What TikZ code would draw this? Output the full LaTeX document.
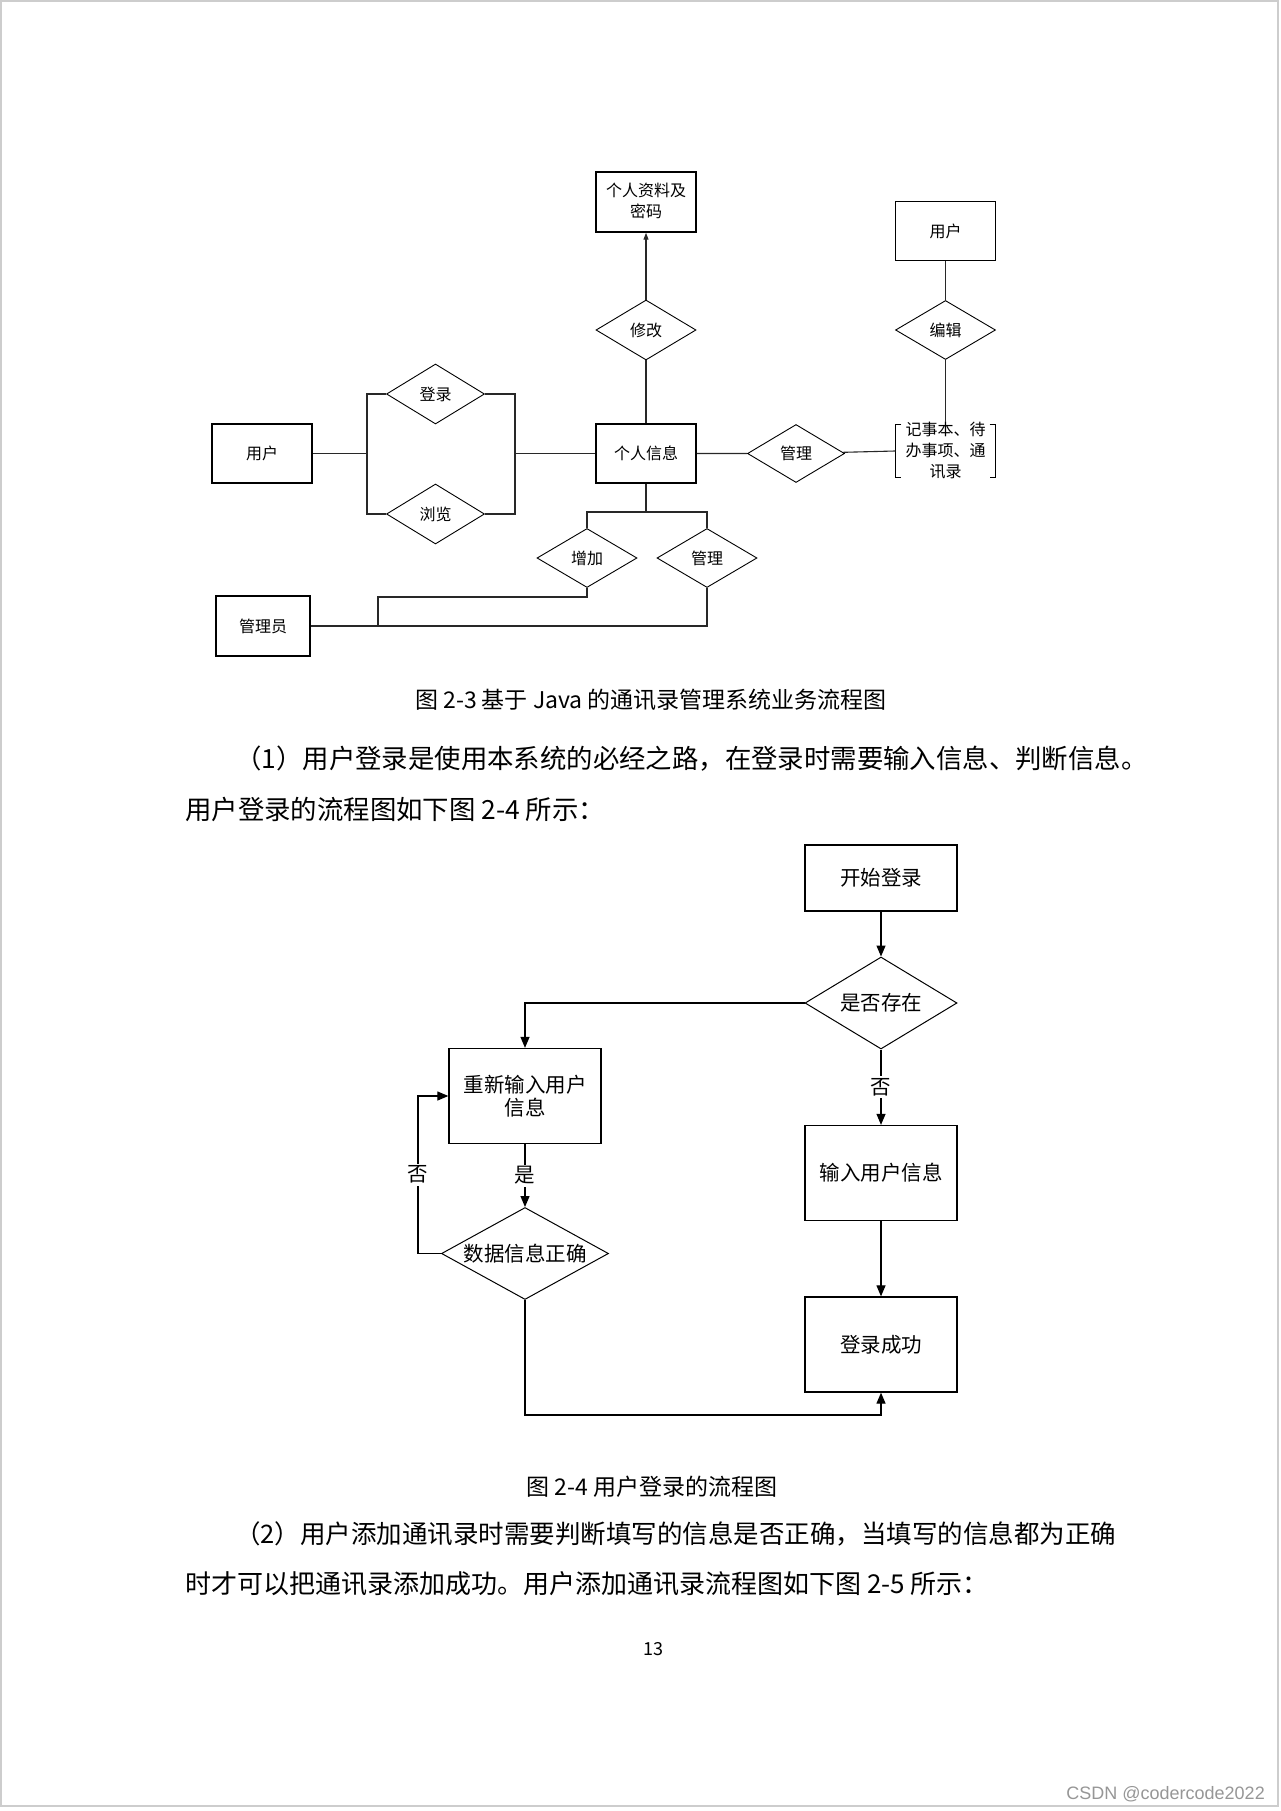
\documentclass[tikz,border=0pt]{standalone}
\usepackage{fontspec}
\setmainfont{Noto Sans CJK SC}
\newfontfamily\wmfont{Liberation Sans}
\usepackage{tikz}
\usetikzlibrary{arrows.meta,positioning,calc,shapes}
\usepackage{xcolor}
\definecolor{pageframe}{RGB}{205,205,205}
\definecolor{wmgray}{RGB}{150,150,150}
\definecolor{linegray}{RGB}{40,40,40}
\newcommand{\fsz}[1]{\fontsize{#1}{#1}\selectfont}
\newcommand{\overtext}[1]{\makebox[0pt]{#1}}
\newcommand{\textline}[4]{
  \node[anchor=west,inner sep=0pt,font=\fsz{#1}] (#2) at (#3) {#4};
}

\begin{document}
\begin{tikzpicture}[x=1pt,y=-1pt,
  box/.style={draw,line width=1.5pt,minimum width=100pt,minimum height=59pt,inner sep=1pt,font=\fontsize{16}{21}\selectfont,align=center},
  cond/.style={draw,diamond,line width=0.9pt,minimum width=100pt,minimum height=59pt,inner sep=0pt,font=\fsz{16}},
  fbox/.style={draw,line width=1.3pt,minimum width=152pt,minimum height=95pt,inner sep=1pt,font=\fsz{20.5},align=center},
  fcond/.style={draw,diamond,line width=1pt,minimum width=152pt,minimum height=92pt,inner sep=0pt,font=\fsz{20.5}},
  link/.style={draw,linegray,line width=1.1pt},
  arr/.style={draw,line width=1.2pt,-{Triangle[length=11pt,width=9pt]}},
  lbl/.style={fill=white,inner sep=2pt,font=\fsz{20.5}}]

  \useasboundingbox (0,0) rectangle (1280,1811);
  \draw[pageframe,line width=1.6pt] (1,1) rectangle (1278,1806);

  % figure 2-3
  \node[box] (user) at (262,453.5) {用户};
  \node[cond,minimum width=98pt,minimum height=60pt] (login) at (435.5,394) {登录};
  \node[cond,minimum width=98pt,minimum height=60pt] (browse) at (435.5,514) {浏览};
  \node[box] (info) at (646,453.5) {个人信息};
  \node[cond,minimum height=60pt] (modify) at (646,330) {修改};
  \node[box,minimum height=60pt] (profile) at (646,202) {\raisebox{3pt}{个人资料及}\\\raisebox{3pt}{密码}};
  \node[cond,minimum width=97pt,minimum height=58pt] (manage) at (796,453.5) {管理};
  \node[inner sep=0pt,minimum width=100pt,minimum height=47pt,font=\fontsize{16}{21}\selectfont,align=center] (notes) at (945.5,451) {记事本、待\\办事项、通\\讯录};
  \node[cond] (edit) at (945.5,330) {编辑};
  \node[box] (owner) at (945.5,231) {用户};
  \node[cond] (add) at (587,558) {增加};
  \node[cond] (manage2) at (707,558) {管理};
  \node[box,minimum width=94pt,minimum height=60pt] (admin) at (263,626) {管理员};

  \draw[line width=1.2pt] ([yshift=-2pt]notes.north west) ++(6,0) -| ([yshift=2pt]notes.south west) -- ++(6,0);
  \draw[line width=1.2pt] ([yshift=-2pt]notes.north east) ++(-6,0) -| ([yshift=2pt]notes.south east) -- ++(-6,0);

  \coordinate (lbr) at (367,453.5);
  \coordinate (rbr) at (515,453.5);
  \coordinate (fork) at (646,512);
  \coordinate (jog) at (378,597);

  \path[link] (user) -- (lbr);
  \path[link] (login.west) -| (lbr) |- (browse.west);
  \path[link] (login.east) -| (rbr) |- (browse.east);
  \path[link] (rbr) -- (info.west);
  \path[link] (info) -- (modify);
  \path[link,-{Triangle[length=7pt,width=5pt]}] (modify) -- (profile);
  \path[link] (info) -- (manage) -- (notes.west);
  \path[link] (owner) -- (edit) -- (notes.north);
  \path[link] (info) -- (fork);
  \path[link] (add.north) |- (fork) -| (manage2.north);
  \path[link] (add.south) |- (jog) -- (jog |- admin.east);
  \path[link] (admin.east) -| (manage2.south);

  % text between the figures
  \node[font=\fsz{23}] (cap1) at (651,700) {图 2-3 基于 Java 的通讯录管理系统业务流程图};
  \textline{26.4}{para1a}{235,759}{（1）用户登录是使用本系统的必经之路，在登录时需要输入信息、判断信息。}
  \textline{26.4}{para1b}{185,809}{用户登录的流程图如下图 2-4 所示：}

  % figure 2-4
  \node[fbox,minimum height=66pt] (start) at (881,878) {开始登录};
  \node[fcond] (exist) at (881,1003) {\overtext{是否存在}};
  \node[fbox] (retry) at (525,1096) {重新输入用户\\[2pt]信息};
  \node[fbox] (input) at (881,1173) {输入用户信息};
  \node[fbox] (done) at (881,1344.5) {登录成功};
  \node[fcond,minimum width=167pt] (check) at (525,1253.5) {\overtext{数据信息正确}};

  \coordinate (loop) at (418,1253.5);
  \coordinate (back) at (525,1415);

  \path[arr] (start) -- (exist);
  \path[arr] (exist.west) -| (retry.north);
  \path[arr] (exist) -- node[lbl] {否} (input);
  \path[arr] (input) -- (done);
  \path[arr] (retry) -- node[lbl] {是} (check);
  \path[arr] (check.west) -- (loop) |- node[lbl,pos=0.25] {否} (retry.west);
  \path[arr] (check.south) -- (back) -| (done.south);

  % text below
  \node[font=\fsz{23}] (cap2) at (652,1487) {图 2-4 用户登录的流程图};
  \textline{25.5}{para2a}{235,1534}{（2）用户添加通讯录时需要判断填写的信息是否正确，当填写的信息都为正确}
  \textline{26}{para2b}{185,1584}{时才可以把通讯录添加成功。用户添加通讯录流程图如下图 2-5 所示：}
  \node[font=\fsz{18}] (pageno) at (653,1649) {13};
  \node[anchor=east,inner sep=0pt,text=wmgray,font=\wmfont\fsz{18}] (mark) at (1265,1794) {CSDN @codercode2022};
\end{tikzpicture}
\end{document}
